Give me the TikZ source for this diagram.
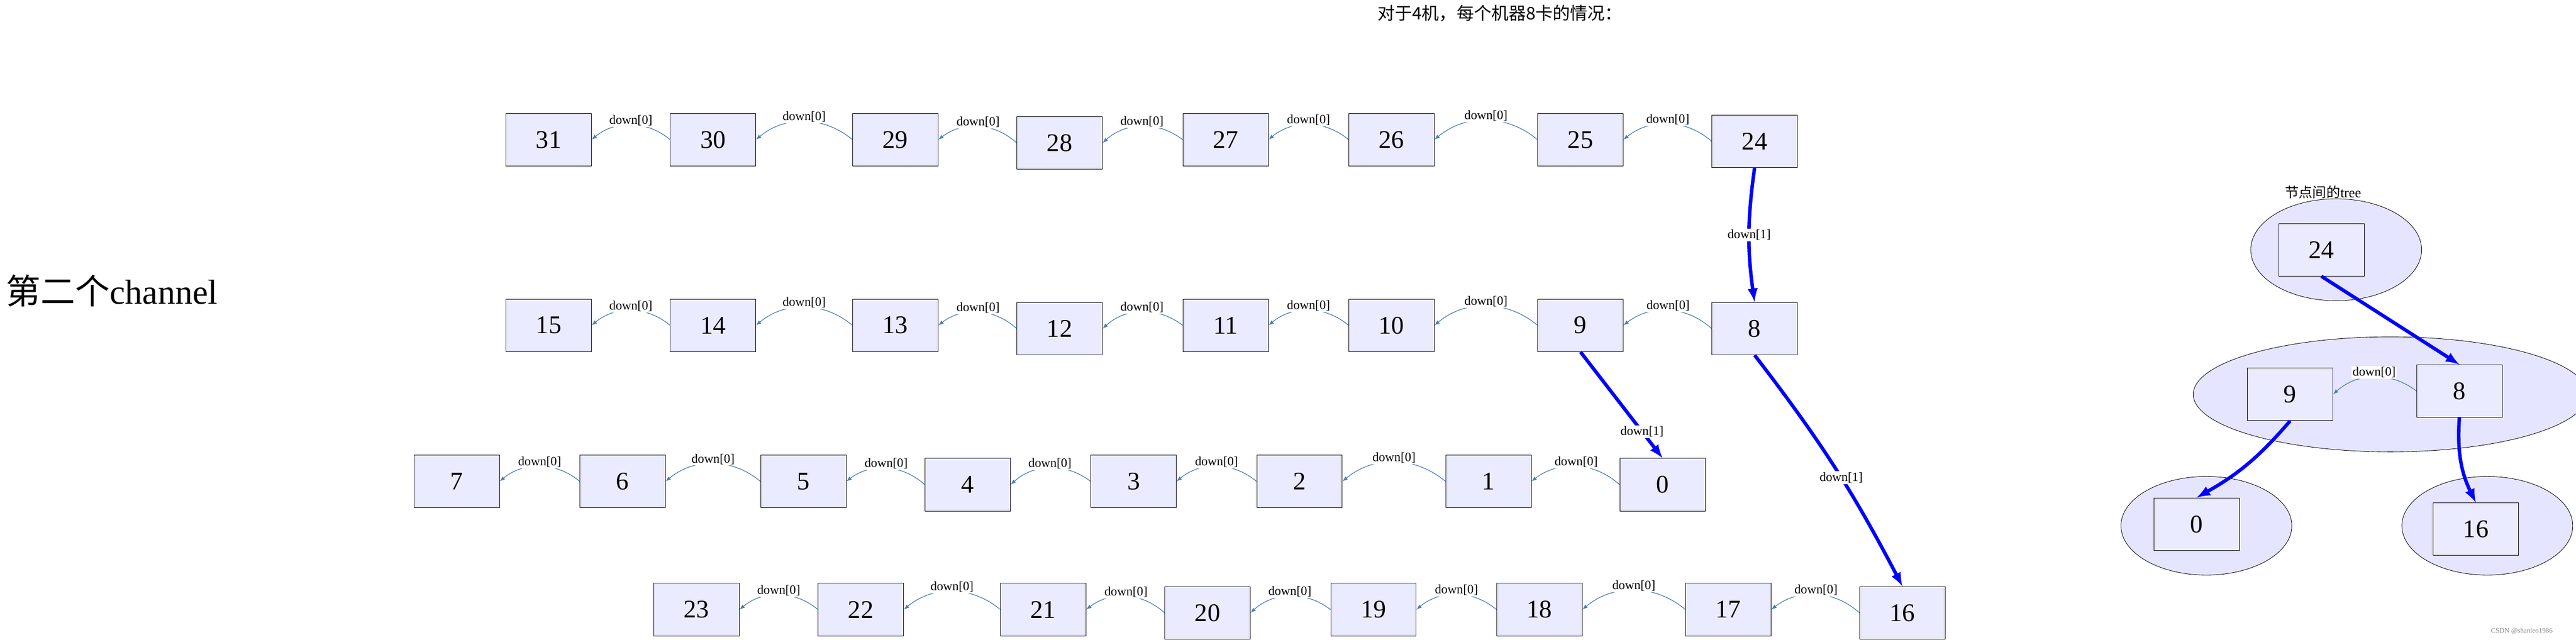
\documentclass[tikz,border=0pt]{standalone}
\usepackage{fontspec}
\setmainfont{Liberation Serif}
\newfontfamily\cjk{Noto Sans CJK SC}
\begin{document}
\begin{tikzpicture}[x=0.05cm,y=-0.05cm,
  card/.style={draw,fill=blue!8!white,minimum width=2.6cm,minimum height=1.6cm,font=\fontsize{22}{24}\selectfont},
  ring/.style={draw,fill=blue!10!white},
  thin/.style={->,>={latex},draw={rgb,255:red,74;green,126;blue,187},line width=0.6pt},
  thick/.style={->,>={latex},draw=blue,line width=3pt},
  lbl/.style={font=\fontsize{11}{12}\selectfont,fill=white,inner sep=1pt}]
\useasboundingbox (0,0) rectangle (1568,389.5);
\node[font=\cjk\fontsize{15}{16}\selectfont] (title) at (913,8) {对于4机，每个机器8卡的情况：};
\node[font=\fontsize{30}{32}\selectfont] (chan) at (68,177) {{\cjk 第二个}channel};
\node[font=\fontsize{6}{7}\selectfont,text=gray] (wm) at (1535,384) {CSDN @shanleo1986};
% rows
\foreach \n/\x/\y in {31/334/85,30/434/85,29/545/85,28/645/87,27/746/85,26/847/85,25/962/85,24/1068/86,
 15/334/198,14/434/198,13/545/198,12/645/200,11/746/198,10/847/198,9/962/198,8/1068/200,
 7/278/293,6/379/293,5/489/293,4/589/295,3/690/293,2/791/293,1/906/293,0/1012/295,
 23/424/371,22/524/371,21/635/371,20/735/373,19/836/371,18/937/371,17/1052/371,16/1158/373}
  \node[card] (n\n) at (\x,\y) {\n};
\foreach \a/\b in {30/31,29/30,28/29,27/28,26/27,25/26,24/25,
 14/15,13/14,12/13,11/12,10/11,9/10,8/9,
 6/7,5/6,4/5,3/4,2/3,1/2,0/1,
 22/23,21/22,20/21,19/20,18/19,17/18,16/17}
  \draw[thin] (n\a.west) to[bend right=40] node[lbl,above=-2pt] {down[0]} (n\b.east);
\draw[thick] (n24.south) to[bend right=8] node[lbl] {down[1]} (n8.north);
\draw[thick] (n9.south) -- node[lbl,pos=0.75] {down[1]} (n0.north);
\draw[thick] (n8.south) to[bend left=5] node[lbl,pos=0.55] {down[1]} (n16.north);
% tree
\node[font=\cjk\fontsize{12}{13}\selectfont] (tt) at (1414,117) {节点间的{\rmfamily tree}};
\draw[ring] (1422,152) ellipse [x radius=52,y radius=31];
\draw[ring] (1455,240) ellipse [x radius=120,y radius=35];
\draw[ring] (1343,320) ellipse [x radius=52,y radius=30];
\draw[ring] (1514,320) ellipse [x radius=52,y radius=30];
\node[card] (t24) at (1413,152) {24};
\node[card] (t9) at (1394,240) {9};
\node[card] (t8) at (1497,238) {8};
\node[card] (t0) at (1337,319) {0};
\node[card] (t16) at (1507,322) {16};
\draw[thick] (t24.south) -- (t8.north);
\draw[thin] (t8.west) to[bend right=40] node[lbl,above=-2pt] {down[0]} (t9.east);
\draw[thick] (t9.south) to[bend left=10] (t0.north);
\draw[thick] (t8.south) to[bend right=15] (t16.north);
\end{tikzpicture}
\end{document}
